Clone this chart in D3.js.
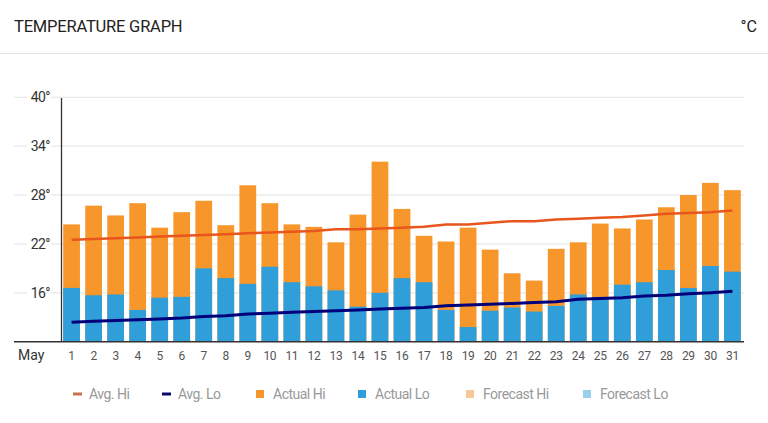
<!DOCTYPE html>
<html><head><meta charset="utf-8">
<script src="https://cdn.jsdelivr.net/npm/d3@7/dist/d3.min.js"></script>
<style>
body{margin:0;background:#fff;}
svg{display:block;font-family:Roboto,"Noto Sans",sans-serif;}
</style></head><body>
<svg id="c" width="768" height="423"></svg>
<script>
const days = d3.range(1, 32).map(String);
const actualHi = [24.4,26.7,25.5,27.0,24.0,25.9,27.3,24.3,29.2,27.0,24.4,24.1,22.2,25.6,32.1,26.3,23.0,22.3,24.0,21.3,18.4,17.5,21.4,22.2,24.5,23.9,25.0,26.5,28.0,29.5,28.6];
const actualLo = [16.6,15.7,15.8,13.9,15.4,15.5,19.0,17.8,17.1,19.2,17.3,16.8,16.3,14.3,16.0,17.8,17.3,13.9,11.8,13.8,14.2,13.7,14.4,15.8,15.5,17.0,17.3,18.8,16.6,19.3,18.6];
const avgHi = [22.5,22.6,22.7,22.8,22.9,23.0,23.1,23.2,23.3,23.4,23.5,23.6,23.8,23.8,23.9,24.0,24.1,24.4,24.4,24.6,24.8,24.8,25.0,25.1,25.2,25.3,25.5,25.7,25.8,25.9,26.1];
const avgLo = [12.4,12.5,12.6,12.7,12.8,12.9,13.1,13.2,13.4,13.5,13.6,13.7,13.8,13.9,14.0,14.1,14.2,14.4,14.5,14.6,14.7,14.8,14.9,15.2,15.3,15.4,15.6,15.7,15.9,16.0,16.2];
const yTicks = [16, 22, 28, 34, 40];
const legendItems = [
  {label:"Avg. Hi", type:"line", color:"#c8714f"},
  {label:"Avg. Lo", type:"line", color:"#0a0a6e"},
  {label:"Actual Hi", type:"rect", color:"#f7962a"},
  {label:"Actual Lo", type:"rect", color:"#2f9ed9"},
  {label:"Forecast Hi", type:"rect", color:"#f9c89a"},
  {label:"Forecast Lo", type:"rect", color:"#9bd0ec"}
];
const legendX = [73, 162, 256, 358, 466, 583];

const svg = d3.select("#c");
const x = d3.scaleBand().domain(days).range([61, 743]).paddingInner(0.24).paddingOuter(0.1);
const y = d3.scaleLinear().domain([10, 40]).range([341.7, 97.3]);

// header
svg.append("text").attr("x", 14).attr("y", 32).attr("font-size", 16.5).attr("letter-spacing", -0.2).attr("fill", "#222").text("TEMPERATURE GRAPH");
svg.append("text").attr("x", 757).attr("y", 32).attr("text-anchor", "end").attr("font-size", 16).attr("fill", "#222").text("°C");
svg.append("line").attr("x1", 0).attr("x2", 768).attr("y1", 53.5).attr("y2", 53.5).attr("stroke", "#e2e2e2").attr("stroke-width", 1);

// gridlines
svg.append("g").selectAll("line").data(yTicks).join("line")
  .attr("x1", 14).attr("x2", 744).attr("y1", d => y(d)).attr("y2", d => y(d))
  .attr("stroke", "#e8e8e8").attr("stroke-width", 1.2);

// y labels
const yl = svg.append("g").selectAll("g").data(yTicks).join("g");
yl.append("rect").attr("x", 27).attr("y", d => y(d) - 9).attr("width", 24).attr("height", 18).attr("fill", "#fff");
yl.append("text").attr("x", 50).attr("y", d => y(d) + 5).attr("text-anchor", "end")
  .attr("font-size", 14).attr("fill", "#333").attr("letter-spacing", -0.6).text(d => d + "°");

// bars
svg.append("g").selectAll("rect").data(days).join("rect")
  .attr("x", d => x(d)).attr("width", x.bandwidth())
  .attr("y", (d, i) => y(actualHi[i])).attr("height", (d, i) => y(10) - y(actualHi[i]))
  .attr("fill", "#f7962a");
svg.append("g").selectAll("rect").data(days).join("rect")
  .attr("x", d => x(d)).attr("width", x.bandwidth())
  .attr("y", (d, i) => y(actualLo[i])).attr("height", (d, i) => y(10) - y(actualLo[i]))
  .attr("fill", "#2f9ed9");

// avg lines
const line = d3.line().x((d, i) => x(days[i]) + x.bandwidth() / 2).y(d => y(d));
svg.append("path").datum(avgHi).attr("d", line).attr("fill", "none").attr("stroke", "#e8561e").attr("stroke-width", 2.5);
svg.append("path").datum(avgLo).attr("d", line).attr("fill", "none").attr("stroke", "#00007a").attr("stroke-width", 3);

// axes
svg.append("line").attr("x1", 61.5).attr("x2", 61.5).attr("y1", 98).attr("y2", 341.7).attr("stroke", "#333").attr("stroke-width", 1.3);
svg.append("line").attr("x1", 14).attr("x2", 744).attr("y1", 341.7).attr("y2", 341.7).attr("stroke", "#333").attr("stroke-width", 1.6);

// x labels
svg.append("text").attr("x", 18).attr("y", 360).attr("font-size", 14).attr("fill", "#333").text("May");
svg.append("g").selectAll("text").data(days).join("text")
  .attr("x", d => x(d) + x.bandwidth() / 2).attr("y", 360).attr("text-anchor", "middle")
  .attr("font-size", 12).attr("fill", "#555").attr("letter-spacing", -0.3).text(d => d);

// legend
const lg = svg.append("g").selectAll("g").data(legendItems).join("g")
  .attr("transform", (d, i) => `translate(${legendX[i]},394)`);
lg.filter(d => d.type === "line").append("rect").attr("x", 0).attr("y", -1.5).attr("width", 9).attr("height", 3).attr("fill", d => d.color);
lg.filter(d => d.type === "rect").append("rect").attr("x", 0).attr("y", -4).attr("width", 8).attr("height", 8).attr("fill", d => d.color);
lg.append("text").attr("x", d => d.type === "line" ? 16 : 17).attr("y", 5).attr("font-size", 14).attr("letter-spacing", -0.5).attr("fill", "#999").text(d => d.label);
</script>
</body></html>
